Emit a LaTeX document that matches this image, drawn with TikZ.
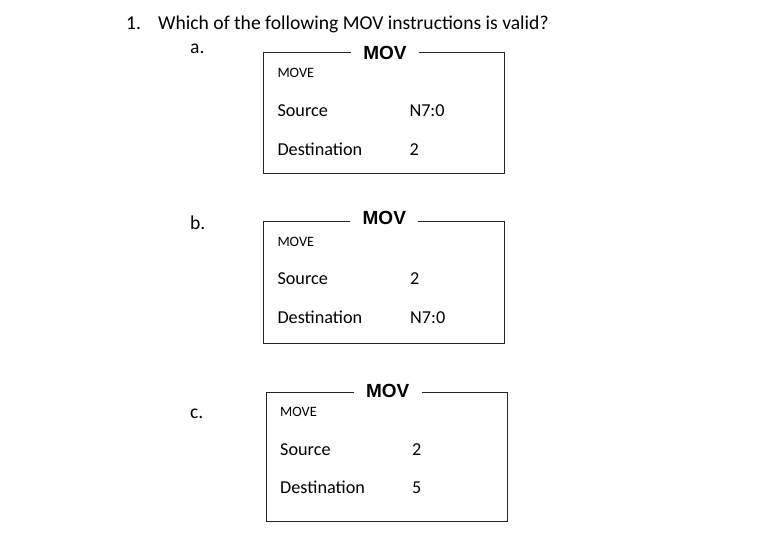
\documentclass[tikz,border=0pt]{standalone}
\usepackage{fontspec}
\setmainfont{Carlito}
\newfontfamily\arialbold{Liberation Sans}[UprightFont=* Bold]
\begin{document}
\begin{tikzpicture}[x=1pt,y=-1pt,
  txt/.style={anchor=base west,inner sep=0pt,font=\fontsize{18.2}{22}\selectfont},
  big/.style={anchor=base west,inner sep=0pt,font=\fontsize{19.6}{24}\selectfont},
  small/.style={anchor=base west,inner sep=0pt,font=\fontsize{14.3}{17}\selectfont},
  movbox/.style={draw=black!85,line width=1.4pt,inner sep=0pt},
  movtitle/.style={anchor=base,fill=white,inner xsep=12.5pt,inner ysep=1pt,font=\arialbold\fontsize{19}{23}\selectfont}]
\useasboundingbox (0,0) rectangle (784,559);
% title
\node[big] (num) at (126,30) {1.};
\node[big] (q) at (158,30) {Which of the following MOV instructions is valid?};
% a
\node[big] (la) at (190,53.3) {a.};
\node[movbox,minimum width=241pt,minimum height=121pt,anchor=north west] (boxa) at (263,52) {};
\node[movtitle] (mova) at (385,59.3) {MOV};
\node[small] (movea) at (277.3,77.3) {MOVE};
\node[txt] (srca) at (277.3,116.7) {Source};
\node[txt] (srcva) at (409.3,116.7) {N7:0};
\node[txt] (dsta) at (277.3,155.3) {Destination};
\node[txt] (dstva) at (409.3,155.3) {2};
% b
\node[big] (lb) at (190,229.3) {b.};
\node[movbox,minimum width=241pt,minimum height=122pt,anchor=north west] (boxb) at (263,221) {};
\node[movtitle] (movb) at (384.3,224.3) {MOV};
\node[small] (moveb) at (277.3,246) {MOVE};
\node[txt] (srcb) at (277.3,284.3) {Source};
\node[txt] (srcvb) at (410,284.3) {2};
\node[txt] (dstb) at (277.3,323.3) {Destination};
\node[txt] (dstvb) at (410,323.3) {N7:0};
% c
\node[big] (lc) at (190,418) {c.};
\node[movbox,minimum width=241pt,minimum height=129pt,anchor=north west] (boxc) at (266,392) {};
\node[movtitle] (movc) at (387.7,397.7) {MOV};
\node[small] (movec) at (280,416) {MOVE};
\node[txt] (srcc) at (280,455) {Source};
\node[txt] (srcvc) at (412,455) {2};
\node[txt] (dstc) at (280,493.3) {Destination};
\node[txt] (dstvc) at (412,493.3) {5};
\end{tikzpicture}
\end{document}
